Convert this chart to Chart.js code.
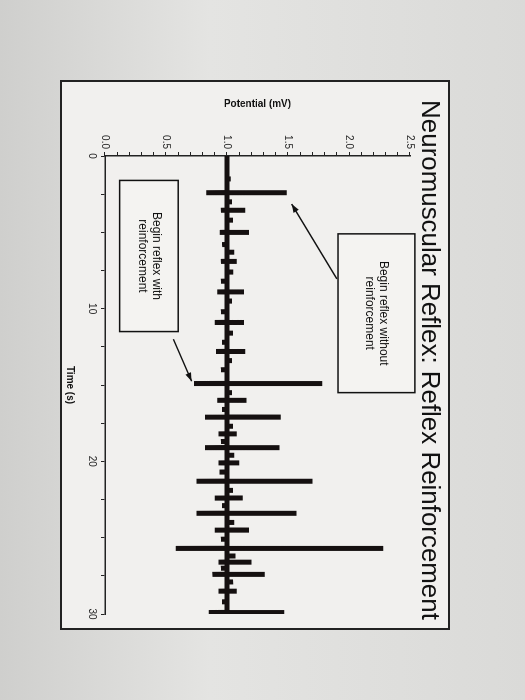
<!DOCTYPE html>
<html><head><meta charset="utf-8">
<script src="https://cdn.jsdelivr.net/npm/chart.js@4"></script>
<style>
html,body{margin:0;padding:0;width:525px;height:700px;overflow:hidden;background:linear-gradient(90deg,#cfcfcd,#e4e4e2 40%,#dadad8);}
#wrap{position:absolute;left:450px;top:80px;width:550px;height:390px;transform-origin:0 0;transform:rotate(90deg);background:#f1f0ee;border:2px solid #222;box-sizing:border-box;}
canvas{position:absolute;left:0;top:0;}
</style></head><body>
<div id="wrap"><canvas id="c" width="550" height="390"></canvas></div>
<script>
const chartTitle = "Neuromuscular Reflex: Reflex Reinforcement";
const xTitle = "Time (s)";
const yTitle = "Potential (mV)";
const baseline = 1.0;
const spikeTime = [2.4, 3.55, 5.0, 6.9, 8.9, 10.9, 12.8, 14.9, 16.0, 17.1, 18.2, 19.1, 20.1, 21.3, 22.4, 23.4, 24.5, 25.7, 26.6, 27.4, 28.5, 29.9];
const spikeHigh = [1.49, 1.15, 1.18, 1.08, 1.14, 1.14, 1.15, 1.78, 1.16, 1.44, 1.08, 1.43, 1.10, 1.70, 1.13, 1.57, 1.18, 2.28, 1.20, 1.31, 1.08, 1.47];
const spikeLow  = [0.83, 0.95, 0.94, 0.95, 0.92, 0.90, 0.91, 0.73, 0.92, 0.82, 0.93, 0.82, 0.93, 0.75, 0.92, 0.75, 0.90, 0.58, 0.93, 0.88, 0.93, 0.85];
const noiseTime = [0.3, 0.9, 1.5, 3.0, 4.2, 5.8, 6.3, 7.6, 8.2, 9.5, 10.2, 11.6, 12.2, 13.4, 14.0, 15.5, 16.6, 17.7, 18.7, 19.6, 20.7, 21.9, 22.9, 24.0, 25.1, 26.2, 27.0, 27.9, 29.2];
const noiseVal  = [1.02, 0.98, 1.03, 1.04, 1.05, 0.96, 1.06, 1.05, 0.95, 1.04, 0.95, 1.05, 0.96, 1.04, 0.95, 1.04, 0.96, 1.05, 0.95, 1.06, 0.96, 1.05, 0.96, 1.06, 0.95, 1.07, 0.95, 1.05, 0.96];
const xTicksMajor = [0, 10, 20, 30];

const pts = [{x:0,y:baseline}];
spikeTime.forEach((t,i)=>{
  pts.push({x:t-0.005,y:baseline},{x:t,y:spikeHigh[i]},{x:t+0.005,y:spikeLow[i]},{x:t+0.01,y:baseline});
});
noiseTime.forEach((t,i)=>{pts.push({x:t-0.005,y:baseline},{x:t,y:noiseVal[i]},{x:t+0.005,y:baseline});});
pts.push({x:30,y:baseline});
pts.sort((a,b)=>a.x-b.x);

const deco = {
  id:'deco',
  afterDraw(ch){
    const c=ch.ctx, xs=ch.scales.x, ys=ch.scales.y;
    const X=v=>xs.getPixelForValue(v), Y=v=>ys.getPixelForValue(v);
    c.save();
    c.fillStyle='#111';
    let fs=26; c.font=fs+'px "Liberation Sans", Arial';
    const w=c.measureText(chartTitle).width; fs=fs*520/w; c.font=fs+'px "Liberation Sans", Arial';
    c.textAlign='center'; c.textBaseline='middle';
    c.fillText(chartTitle, 278, 19);
    c.font='bold 10px "Liberation Sans", Arial';
    c.save(); c.translate(22,(Y(0)+Y(2.5))/2); c.rotate(-Math.PI/2); c.fillText(yTitle,0,0); c.restore();
    c.fillText(xTitle, (X(0)+X(30))/2, 378);
    c.lineWidth=1.5; c.strokeStyle='#111';
    function box(t0,t1,p0,p1,lines){
      const x0=X(t0),x1=X(t1),y0=Y(p0),y1=Y(p1);
      c.fillStyle='#f4f3f1'; c.fillRect(x0,y0,x1-x0,y1-y0); c.strokeRect(x0,y0,x1-x0,y1-y0);
      c.fillStyle='#111'; c.font='12px "Liberation Sans", Arial';
      const cx=(x0+x1)/2, cy=(y0+y1)/2;
      lines.forEach((s,i)=>c.fillText(s,cx,cy+(i-(lines.length-1)/2)*14));
    }
    function arrow(t0,p0,t1,p1){
      const x0=X(t0),y0=Y(p0),x1=X(t1),y1=Y(p1);
      c.beginPath(); c.moveTo(x0,y0); c.lineTo(x1,y1); c.stroke();
      const a=Math.atan2(y1-y0,x1-x0);
      c.beginPath(); c.moveTo(x1,y1);
      c.lineTo(x1-9*Math.cos(a-0.35),y1-9*Math.sin(a-0.35));
      c.lineTo(x1-9*Math.cos(a+0.35),y1-9*Math.sin(a+0.35));
      c.closePath(); c.fill();
    }
    box(5.1,15.5,2.54,1.91,["Begin reflex without","reinforcement"]);
    box(1.6,11.5,0.60,0.12,["Begin reflex with","reinforcement"]);
    c.fillStyle='#111';
    arrow(8.05,1.90,3.15,1.53);
    arrow(12.0,0.56,14.75,0.71);
    c.restore();
  }
};

new Chart(document.getElementById('c'),{
  type:'scatter',
  data:{datasets:[{data:pts,showLine:true,borderColor:'#151010',borderWidth:5,pointRadius:0,tension:0,borderJoinStyle:'miter',borderCapStyle:'butt'}]},
  options:{
    responsive:false,animation:false,
    layout:{padding:{top:38,right:18,left:0,bottom:0}},
    plugins:{legend:{display:false},tooltip:{enabled:false}},
    scales:{
      x:{type:'linear',min:0,max:30,
        afterFit(s){s.height=47;},
        afterBuildTicks(s){const t=[];for(let v=0;v<=30;v+=2.5)t.push({value:v});s.ticks=t;},
        ticks:{autoSkip:false,maxRotation:0,color:'#222',font:{size:10,family:'"Liberation Sans", Arial'},
          callback:v=>xTicksMajor.includes(v)?String(v):''},
        grid:{drawOnChartArea:false,color:'#222',tickLength:4},
        border:{color:'#222',width:1.5}},
      y:{type:'linear',min:0,max:2.5,
        afterFit(s){s.width=74;},
        afterBuildTicks(s){const t=[];for(let i=0;i<=25;i++)t.push({value:i/10});s.ticks=t;},
        ticks:{autoSkip:false,color:'#222',font:{size:10,family:'"Liberation Sans", Arial'},
          callback:v=>(Math.round(v*10)%5===0)?v.toFixed(1):''},
        grid:{drawOnChartArea:false,color:'#222',tickLength:4},
        border:{color:'#222',width:1.5}}
    }
  },
  plugins:[deco]
});
</script></body></html>
